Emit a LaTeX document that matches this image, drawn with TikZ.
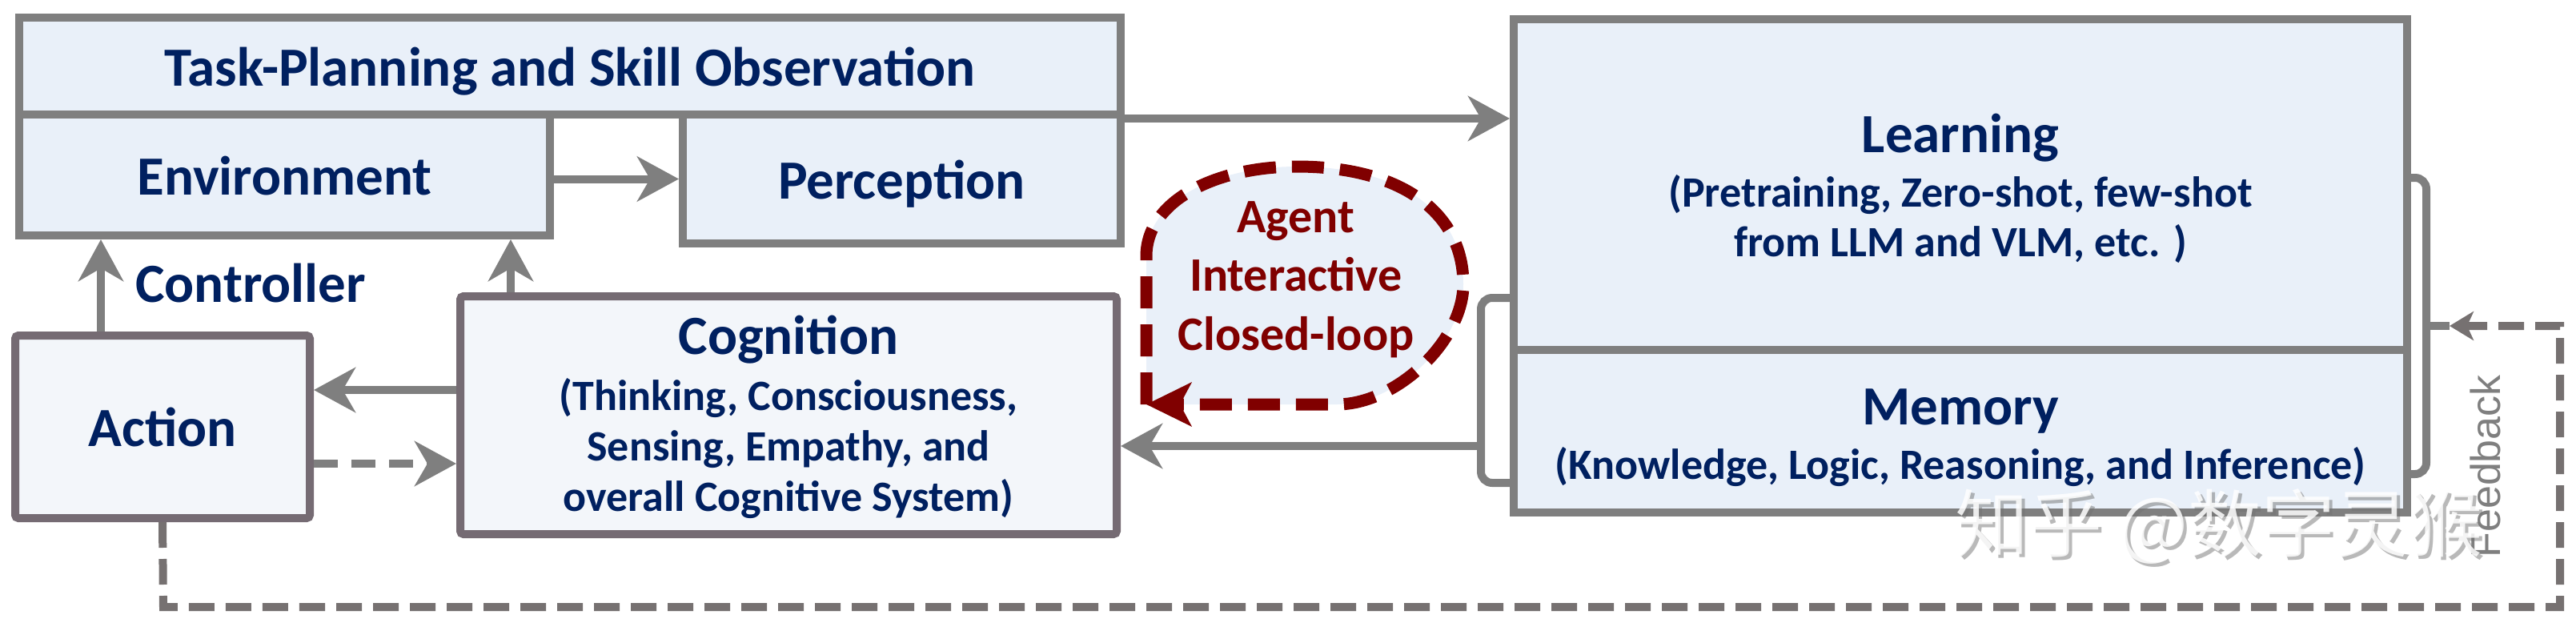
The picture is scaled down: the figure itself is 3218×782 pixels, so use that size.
\documentclass[tikz,border=0pt]{standalone}
\usepackage{fontspec}
\setmainfont{Carlito}
\newfontfamily\arialf{Liberation Sans}
\newfontfamily\cjkf{Noto Sans CJK SC}
\usetikzlibrary{arrows.meta}
\definecolor{navy}{HTML}{002060}
\definecolor{bordergray}{HTML}{7F7F7F}
\definecolor{cogborder}{HTML}{756B73}
\definecolor{fillA}{HTML}{E9F0F9}
\definecolor{fillB}{HTML}{F3F6FA}
\definecolor{loopred}{HTML}{800000}
\definecolor{dashgray}{HTML}{767171}
\newcommand\fsz[1]{\fontsize{#1}{#1}\selectfont}
\begin{document}
\begin{tikzpicture}[x=1pt,y=-1pt,
  boxA/.style={draw=bordergray, fill=fillA, line width=10pt, inner sep=0pt,
    font=\bfseries\fsz{69}, text=navy, text height=49pt, text depth=0pt},
  boxB/.style={boxA, draw=cogborder, fill=fillB, rounded corners=4pt},
  ttl/.style={font=\bfseries\fsz{69}, text=navy, anchor=base, inner sep=0pt},
  sub/.style={font=\bfseries\fsz{54}, text=navy, anchor=base, inner sep=0pt},
  looptxt/.style={font=\bfseries\fsz{60}, text=loopred, anchor=base, inner sep=0pt},
  arr/.style={draw=bordergray, line width=10pt, -{Stealth[length=52pt, width=56pt, inset=16pt]}},
  darr/.style={arr, dash pattern=on 30pt off 17pt},
  bracestyle/.style={draw=bordergray, line width=10pt, rounded corners=14pt},
  fbline/.style={draw=dashgray, line width=10pt, dash pattern=on 32pt off 14pt,
    -{Stealth[length=30pt, width=36pt, inset=8pt]}},
  loopline/.style={draw=loopred, fill=fillA, line width=15pt, dash pattern=on 40pt off 20pt,
    -{Stealth[length=56pt, width=54pt, inset=14pt]}},
  wmark/.style={font=\cjkf\fsz{92}, anchor=base west, inner sep=0pt}
]
\useasboundingbox (0,0) rectangle (3218,782);

% boxes
\node[boxA, minimum width=1376pt, minimum height=121pt] (task) at (712,82.5) {Task-Planning and Skill Observation};
\node[boxA, minimum width=663pt, minimum height=151pt] (env) at (355.5,218.5) {Environment};
\node[boxA, minimum width=547pt, minimum height=161pt] (perc) at (1126.5,223.5) {Perception};
\node[boxB, minimum width=368pt, minimum height=228pt] (act) at (203,533) {Action};
\node[boxB, minimum width=820pt, minimum height=297pt] (cog) at (985,518.5) {};
\node[boxA, minimum width=1116pt, minimum height=413pt] (learn) at (2449,230.5) {};
\node[boxA, minimum width=1116pt, minimum height=203pt] (mem) at (2449,538.5) {};

% texts inside multi-line boxes
\node[ttl] (cogt) at (985,442) {Cognition};
\node[sub] (cogs1) at (985,512) {(Thinking, Consciousness,};
\node[sub] (cogs2) at (985,575) {Sensing, Empathy, and};
\node[sub] (cogs3) at (985,638) {overall Cognitive System)};
\node[ttl] (learnt) at (2449,190) {Learning};
\node[sub] (learns1) at (2449,258) {(Pretraining, Zero-shot, few-shot};
\node[sub] (learns2) at (2449,320) {from LLM and VLM, etc. )};
\node[ttl] (memt) at (2449,530) {Memory};
\node[sub] (mems1) at (2449,598) {(Knowledge, Logic, Reasoning, and Inference)};
\node[ttl, anchor=base west] (ctrl) at (169,377) {Controller};

% helper coordinates
\coordinate (xctrl) at (126,0);
\coordinate (xcogup) at (638,0);
\coordinate (ycogact) at (0,487);
\coordinate (yactcog) at (0,579);
\coordinate (lbtop) at (1891,372);
\coordinate (lbmid) at (1850,557);
\coordinate (lbbot) at (1891,603);
\coordinate (rbtop) at (3007,222);
\coordinate (rbbot) at (3007,592);
\coordinate (rbtip) at (3060,407);
\coordinate (fb1) at (204,758);
\coordinate (fb2) at (3198,758);
\coordinate (fb3) at (3198,407);

% connectors
\draw[arr] (env.east |- perc.west) -- (perc.west);
\draw[arr] (task.south east) -- (task.south east -| learn.west);
\draw[arr] (act.north -| xctrl) -- (env.south -| xctrl);
\draw[arr] (cog.north -| xcogup) -- (env.south -| xcogup);
\draw[arr] (cog.west |- ycogact) -- (act.east |- ycogact);
\draw[darr] (act.east |- yactcog) -- (cog.west |- yactcog);

% braces
\draw[bracestyle] (lbtop) -- (1850,372) -- (1850,557) -- (1850,603) -- (lbbot);
\draw[draw=bordergray, line width=10pt] (1850,557) -- (1818,557);
\draw[arr] (lbmid) -- (cog.east |- lbmid);
\draw[bracestyle] (rbtop) -- (3031,222) -- (3031,592) -- (rbbot);
\draw[draw=bordergray, line width=10pt] (3031,407) -- (rbtip);

% feedback loop
\draw[fbline] (act.south) -- (fb1) -- (fb2) -- (fb3) -- (rbtip);
\node[font=\arialf\fsz{52}, text=bordergray, rotate=90, anchor=base east, inner sep=0pt] (fbt) at (3123,468) {Feedback};

% agent interactive closed loop
\draw[loopline] (1432,505) -- (1432,320) .. controls (1432,250) and (1520,208) .. (1620,208)
  .. controls (1750,208) and (1828,265) .. (1828,355)
  .. controls (1828,425) and (1745,505) .. (1670,505) -- (1432,505);
\node[looptxt] (ag1) at (1619,290) {Agent};
\node[looptxt] (ag2) at (1619,363) {Interactive};
\node[looptxt] (ag3) at (1619,437) {Closed-loop};

% watermark
\node[wmark, text=black!55, opacity=0.5] (wms) at (2446,692) {知乎 @数字灵猴};
\node[wmark, text=white, opacity=0.85] (wm) at (2442,688) {知乎 @数字灵猴};
\end{tikzpicture}
\end{document}
